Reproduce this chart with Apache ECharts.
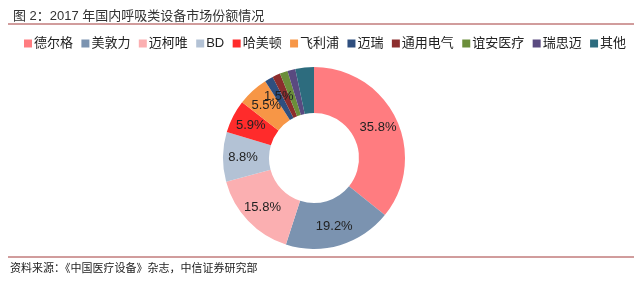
<!DOCTYPE html>
<html>
<head>
<meta charset="utf-8">
<script src="https://cdn.jsdelivr.net/npm/echarts@6/dist/echarts.min.js"></script>
<style>
  html, body { margin: 0; padding: 0; background: #fff; }
  #chart { width: 639px; height: 281px; }
</style>
</head>
<body>
<div id="chart"></div>
<script>
  const names = ['德尔格', '美敦力', '迈柯唯', 'BD', '哈美顿', '飞利浦', '迈瑞', '通用电气', '谊安医疗', '瑞思迈', '其他']
  const shares = [35.8, 19.2, 15.8, 8.8, 5.9, 5.5, 1.5, 1.4, 1.4, 1.4, 3.3]
  const colors = ['#FF7C80', '#7B93B0', '#FBAFB1', '#B3C2D5', '#FF2B2B', '#F79646',
    '#2F4F7F', '#8C2D2D', '#6B8E3A', '#5A4A80', '#2D6C7E']
  const hideLabel = ['通用电气', '谊安医疗', '瑞思迈', '其他']

  const font = '"Liberation Sans", "Noto Sans CJK SC", sans-serif'
  const chart = echarts.init(document.getElementById('chart'))

  chart.setOption({
    color: colors,
    animation: false,
    title: {
      text: '图 2：2017 年国内呼吸类设备市场份额情况',
      left: 8,
      top: 5,
      textStyle: { fontSize: 13, fontWeight: 'normal', color: '#333', fontFamily: font }
    },
    legend: {
      data: names,
      top: 32,
      left: 19,
      itemWidth: 8,
      itemHeight: 8,
      itemGap: 8.4,
      icon: 'rect',
      textStyle: { fontSize: 13, color: '#222', fontFamily: font, padding: [0, 0, 0, -3] }
    },
    graphic: [
      { type: 'line', shape: { x1: 8, y1: 24, x2: 634, y2: 24 }, style: { stroke: '#A33A3A', lineWidth: 1 } },
      { type: 'line', shape: { x1: 8, y1: 257, x2: 634, y2: 257 }, style: { stroke: '#A33A3A', lineWidth: 1 } },
      {
        type: 'text', left: 10, top: 263,
        style: { text: '资料来源：《中国医疗设备》杂志，中信证券研究部', fontSize: 11, fill: '#222', fontFamily: font }
      }
    ],
    series: [{
      type: 'pie',
      center: [314, 158],
      radius: [45, 91],
      startAngle: 90,
      clockwise: true,
      avoidLabelOverlap: false,
      labelLayout: { hideOverlap: false },
      label: {
        show: true,
        position: 'inside',
        formatter: p => p.value.toFixed(1) + '%',
        fontSize: 13,
        color: '#222',
        fontFamily: font
      },
      labelLine: { show: false },
      data: names.map((n, i) => ({
        name: n,
        value: shares[i],
        label: { show: hideLabel.indexOf(n) < 0 }
      }))
    }]
  })
</script>
</body>
</html>
